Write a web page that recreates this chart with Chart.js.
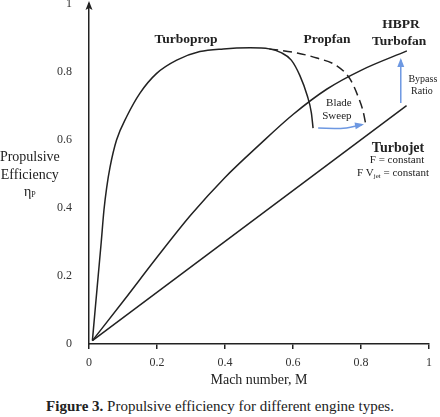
<!DOCTYPE html>
<html><head><meta charset="utf-8">
<script src="https://cdn.jsdelivr.net/npm/chart.js@4"></script>
<style>
html,body{margin:0;padding:0;background:#fff;}
#wrap{position:relative;width:440px;height:417px;overflow:hidden;}
#box{position:absolute;left:0;top:0;width:440px;height:392px;}
#cap{position:absolute;left:0;top:398px;width:440px;text-align:center;font:15px "Liberation Serif",serif;color:#222;white-space:nowrap;line-height:17px;}
</style></head><body>
<div id="wrap"><div id="box"><canvas id="c"></canvas></div>
<div id="cap"><b>Figure 3.</b> Propulsive efficiency for different engine types.</div></div>
<script>
// ---- data ----
const xTicks = [0, 0.2, 0.4, 0.6, 0.8, 1];
const yTicks = [0, 0.2, 0.4, 0.6, 0.8, 1];

const turbojetM   = [0.01, 0.934];
const turbojetEta = [0.01, 0.701];

const turbofanM   = [0.01, 0.1, 0.2, 0.3, 0.4, 0.5, 0.6, 0.7, 0.8, 0.935];
const turbofanEta = [0.01, 0.125, 0.255, 0.38, 0.49, 0.585, 0.675, 0.75, 0.805, 0.862];

const turbopropM   = [0.01, 0.018, 0.027, 0.036, 0.044, 0.052, 0.062, 0.081, 0.111, 0.15, 0.199, 0.258, 0.326, 0.395, 0.474, 0.53, 0.565, 0.595, 0.62, 0.642, 0.654, 0.659];
const turbopropEta = [0.01, 0.1, 0.2, 0.3, 0.394, 0.46, 0.521, 0.6, 0.669, 0.738, 0.796, 0.835, 0.86, 0.868, 0.871, 0.868, 0.857, 0.835, 0.79, 0.73, 0.68, 0.635];

const propfanM   = [0.53, 0.612, 0.67, 0.729, 0.768, 0.791, 0.806, 0.815];
const propfanEta = [0.868, 0.856, 0.841, 0.818, 0.779, 0.729, 0.685, 0.641];

const sweepM   = [0.674, 0.74, 0.803];
const sweepEta = [0.635, 0.634, 0.645];

const bypassM   = [0.917, 0.917];
const bypassEta = [0.709, 0.835];

// ---- helpers ----
const SERIF = '"Liberation Serif", "DejaVu Serif", serif';
const INK = '#222';
const BLUE = '#6d98e2';
const pts = (xs, ys) => xs.map((v, i) => ({x: v, y: ys[i]}));
const fmt = v => String(Number(v.toFixed(1)));

const annotations = [
  {t: 'Turboprop', x: 0.285, y: 0.897, f: 'bold 13.5px ' + SERIF},
  {t: 'Propfan',   x: 0.70,  y: 0.897, f: 'bold 13.5px ' + SERIF},
  {t: 'HBPR',      x: 0.918, y: 0.941, f: 'bold 13.5px ' + SERIF},
  {t: 'Turbofan',  x: 0.912, y: 0.891, f: 'bold 13.5px ' + SERIF},
  {t: 'Bypass',    x: 0.982, y: 0.779, f: '10px ' + SERIF},
  {t: 'Ratio',     x: 0.979, y: 0.744, f: '10px ' + SERIF},
  {t: 'Blade',     x: 0.735, y: 0.709, f: '11px ' + SERIF},
  {t: 'Sweep',     x: 0.729, y: 0.671, f: '11px ' + SERIF},
  {t: 'Turbojet',  x: 0.909, y: 0.576, f: 'bold 14px ' + SERIF},
  {t: 'F = constant', x: 0.906, y: 0.541, f: '11px ' + SERIF},
  {t: 'Propulsive', x: -0.174, y: 0.55, f: '14px ' + SERIF},
  {t: 'Efficiency', x: -0.174, y: 0.497, f: '14px ' + SERIF}
];

const deco = {
  id: 'deco',
  afterDraw(chart) {
    const {ctx, chartArea: a, scales: {x, y}} = chart;
    ctx.save();
    // y axis arrow head
    ctx.fillStyle = INK;
    ctx.beginPath();
    ctx.moveTo(a.left, a.top - 3);
    ctx.lineTo(a.left - 3.5, a.top + 6);
    ctx.lineTo(a.left, a.top + 4);
    ctx.lineTo(a.left + 3.5, a.top + 6);
    ctx.closePath();
    ctx.fill();
    // arrow heads for blue arrows
    chart.data.datasets.forEach((ds, i) => {
      if (!ds.arrow) return;
      const el = chart.getDatasetMeta(i).data;
      const p1 = el[el.length - 2], p2 = el[el.length - 1];
      const ang = Math.atan2(p2.y - p1.y, p2.x - p1.x);
      const L = 7, W = 3.5;
      ctx.fillStyle = BLUE;
      ctx.beginPath();
      ctx.moveTo(p2.x + Math.cos(ang) * 2, p2.y + Math.sin(ang) * 2);
      ctx.lineTo(p2.x - Math.cos(ang) * L - Math.sin(ang) * W, p2.y - Math.sin(ang) * L + Math.cos(ang) * W);
      ctx.lineTo(p2.x - Math.cos(ang) * L + Math.sin(ang) * W, p2.y - Math.sin(ang) * L - Math.cos(ang) * W);
      ctx.closePath();
      ctx.fill();
    });
    // text labels
    ctx.fillStyle = INK;
    ctx.textAlign = 'center';
    ctx.textBaseline = 'middle';
    annotations.forEach(a2 => {
      ctx.font = a2.f;
      ctx.fillText(a2.t, x.getPixelForValue(a2.x), y.getPixelForValue(a2.y));
    });
    const drawSub = (parts, cx, cy) => {
      let w = 0;
      parts.forEach(p => { ctx.font = p.f; w += ctx.measureText(p.t).width; });
      let px = cx - w / 2;
      ctx.textAlign = 'left';
      parts.forEach(p => {
        ctx.font = p.f;
        ctx.fillText(p.t, px, cy + (p.dy || 0));
        px += ctx.measureText(p.t).width;
      });
      ctx.textAlign = 'center';
    };
    drawSub([
      {t: 'F V', f: '11px ' + SERIF},
      {t: 'jet', f: '7px ' + SERIF, dy: 3},
      {t: ' = constant', f: '11px ' + SERIF}
    ], x.getPixelForValue(0.894), y.getPixelForValue(0.503));
    drawSub([
      {t: 'η', f: '14px ' + SERIF},
      {t: 'P', f: '8px ' + SERIF, dy: 3}
    ], x.getPixelForValue(-0.174), y.getPixelForValue(0.447));
    ctx.restore();
  }
};

const line = (data, extra) => Object.assign({
  data, showLine: true, pointRadius: 0, borderColor: INK, borderWidth: 1.5,
  cubicInterpolationMode: 'monotone', fill: false
}, extra);

new Chart(document.getElementById('c'), {
  type: 'scatter',
  data: {
    datasets: [
      line(pts(turbojetM, turbojetEta), {cubicInterpolationMode: 'default', tension: 0}),
      line(pts(turbofanM, turbofanEta)),
      line(pts(turbopropM, turbopropEta)),
      line(pts(propfanM, propfanEta), {borderDash: [9, 5]}),
      line(pts(sweepM, sweepEta), {borderColor: BLUE, borderWidth: 1.5, arrow: true}),
      line(pts(bypassM, bypassEta), {borderColor: BLUE, borderWidth: 1.5, cubicInterpolationMode: 'default', tension: 0, arrow: true})
    ]
  },
  options: {
    responsive: true,
    maintainAspectRatio: false,
    animation: false,
    layout: {padding: {left: 0, right: 11, top: 4, bottom: 0}},
    plugins: {legend: {display: false}, tooltip: {enabled: false}},
    scales: {
      x: {
        type: 'linear', min: 0, max: 1,
        afterBuildTicks: s => { s.ticks = xTicks.map(v => ({value: v})); },
        afterFit: s => { s.height = 48; s.paddingLeft = 0; s.paddingRight = 0; },
        grid: {display: true, drawOnChartArea: false, drawTicks: true, tickLength: 5, color: INK, lineWidth: 1.5},
        border: {display: true, color: INK, width: 1.5},
        ticks: {padding: 7, color: '#333', font: {family: SERIF, size: 12}, callback: v => fmt(v), maxRotation: 0, autoSkip: false},
        title: {display: true, text: 'Mach number, M', color: INK, font: {family: SERIF, size: 14}, padding: {top: 0, bottom: 3.6}}
      },
      y: {
        type: 'linear', min: 0, max: 1,
        afterBuildTicks: s => { s.ticks = yTicks.map(v => ({value: v})); },
        afterFit: s => { s.width = 89; s.paddingTop = 0; s.paddingBottom = 0; },
        grid: {display: false},
        border: {display: true, color: INK, width: 1.5},
        ticks: {padding: 9, color: '#333', font: {family: SERIF, size: 12}, callback: v => fmt(v), autoSkip: false}
      }
    }
  },
  plugins: [deco]
});
</script>
</body></html>
